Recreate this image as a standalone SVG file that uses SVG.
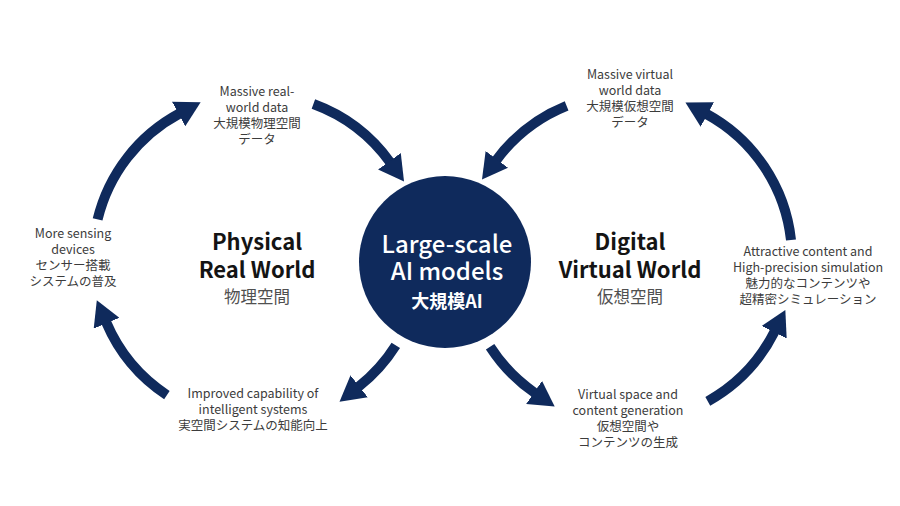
<svg xmlns="http://www.w3.org/2000/svg" width="900" height="506" viewBox="0 0 900 506">
<style>
text{font-family:"Noto Sans CJK JP","Noto Sans",sans-serif;text-anchor:middle}
.lbl{font-size:12.5px;fill:#3c3c3c}
.ttl{font-size:22px;font-weight:700;fill:#141414}
.sub{font-size:16.5px;fill:#505050}
.ctr{font-size:24px;font-weight:500;fill:#ffffff}
.ctrj{font-size:18px;font-weight:700;fill:#ffffff}
.arc{fill:none;stroke:#0f2a5c;stroke-width:10;marker-end:url(#head)}
</style>
<defs>
<marker id="head" viewBox="0 0 25 28" refX="1" refY="14" markerWidth="25" markerHeight="28" markerUnits="userSpaceOnUse" orient="auto">
<polygon points="0,0 25,14 0,28" fill="#0f2a5c"/>
</marker>
</defs>
<rect width="900" height="506" fill="#ffffff"/>
<g id="connectors">
<path class="arc" d="M97.6,219.4 A164,164 0 0 1 179.5,113.5"/>
<path class="arc" d="M313.4,104.0 A164,164 0 0 1 390.0,162.1"/>
<path class="arc" d="M395.8,345.4 A164,164 0 0 1 358.4,386.9"/>
<path class="arc" d="M166.9,395.1 A164,164 0 0 1 106.2,322.3"/>
<path class="arc" d="M566.6,105.9 A164,164 0 0 0 496.3,160.2"/>
<path class="arc" d="M791.0,240.0 A164,164 0 0 0 706.5,114.0"/>
<path class="arc" d="M707.8,401.3 A164,164 0 0 0 774.6,331.4"/>
<path class="arc" d="M490.1,346.8 A164,164 0 0 0 534.9,393.0"/>
</g>
<g id="ai-models">
<circle cx="445" cy="262" r="86" fill="#0f2a5c"/>
<text class="ctr" x="447" y="253">Large-scale</text>
<text class="ctr" x="447" y="280">AI models</text>
<text class="ctrj" x="447" y="308">大規模AI</text>
</g>
<g id="physical-world">
<text class="ttl" x="257" y="250">Physical</text>
<text class="ttl" x="257" y="278">Real World</text>
<text class="sub" x="257" y="303">物理空間</text>
</g>
<g id="digital-world">
<text class="ttl" x="630" y="250">Digital</text>
<text class="ttl" x="630" y="278">Virtual World</text>
<text class="sub" x="630" y="303">仮想空間</text>
</g>
<g id="real-data">
<text class="lbl" x="257" y="95.5">Massive real-</text>
<text class="lbl" x="257" y="111.5">world data</text>
<text class="lbl" x="257" y="127.5">大規模物理空間</text>
<text class="lbl" x="257" y="143.5">データ</text>
</g>
<g id="sensing">
<text class="lbl" x="73" y="237.5">More sensing</text>
<text class="lbl" x="73" y="253.5">devices</text>
<text class="lbl" x="73" y="269.5">センサー搭載</text>
<text class="lbl" x="73" y="285.5">システムの普及</text>
</g>
<g id="intelligent">
<text class="lbl" x="253" y="397.5">Improved capability of</text>
<text class="lbl" x="253" y="413.5">intelligent systems</text>
<text class="lbl" x="253" y="429.5">実空間システムの知能向上</text>
</g>
<g id="virtual-data">
<text class="lbl" x="630" y="78.5">Massive virtual</text>
<text class="lbl" x="630" y="94.5">world data</text>
<text class="lbl" x="630" y="110.5">大規模仮想空間</text>
<text class="lbl" x="630" y="126.5">データ</text>
</g>
<g id="simulation">
<text class="lbl" x="808" y="255.5">Attractive content and</text>
<text class="lbl" x="808" y="271.5">High-precision simulation</text>
<text class="lbl" x="808" y="287.5">魅力的なコンテンツや</text>
<text class="lbl" x="808" y="303.5">超精密シミュレーション</text>
</g>
<g id="generation">
<text class="lbl" x="628" y="398.5">Virtual space and</text>
<text class="lbl" x="628" y="414.5">content generation</text>
<text class="lbl" x="628" y="430.5">仮想空間や</text>
<text class="lbl" x="628" y="446.5">コンテンツの生成</text>
</g>
</svg>
